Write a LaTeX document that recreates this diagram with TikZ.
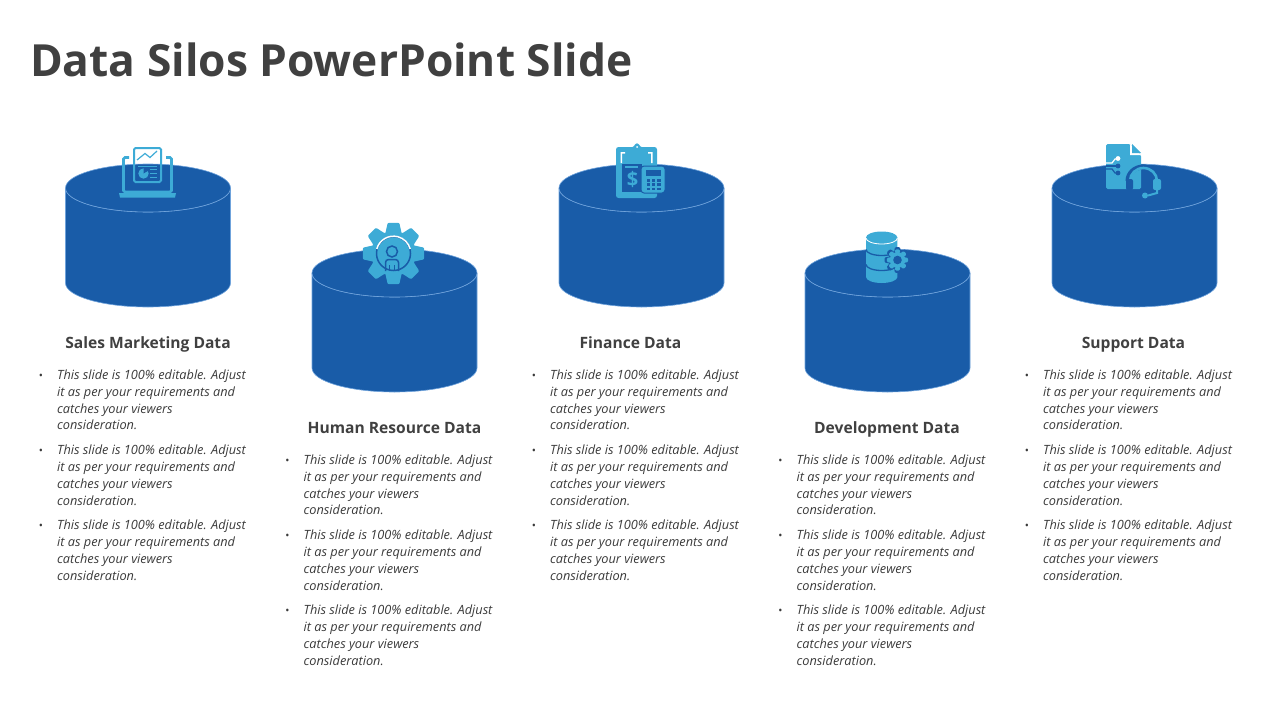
\documentclass[tikz,border=0pt]{standalone}
\usepackage{fontspec}
\setmainfont{Open Sans}
\definecolor{silofill}{HTML}{195CA8}
\definecolor{silorim}{HTML}{6FA3DC}
\definecolor{iconblue}{HTML}{3DABD6}
\definecolor{titlegray}{HTML}{404040}
\definecolor{textgray}{HTML}{3A3A3A}
\tikzset{
  titletext/.style={anchor=base west,inner sep=0pt,font=\fontsize{44.3}{50}\selectfont\bfseries,text=titlegray},
  headtext/.style={anchor=base,inner sep=0pt,font=\fontsize{15.6}{18}\selectfont\bfseries,text=titlegray},
  bodytext/.style={anchor=base west,inner sep=0pt,align=left,font=\fontsize{12.74}{16.9}\selectfont\itshape,text=textgray},
  bullettext/.style={anchor=base,inner sep=0pt,font=\fontsize{11}{14}\selectfont,text=textgray},
  iconline/.style={draw=iconblue,line width=2.8pt,rounded corners=1.5pt}
}
\newcommand{\silo}[2]{% centre x, y of the top ellipse
  \filldraw[fill=silofill,draw=silorim,line width=.6pt] (#1-82.5,#2) -- (#1-82.5,#2+95)
    arc[start angle=180,end angle=360,x radius=82.5,y radius=-24] -- (#1+82.5,#2)
    arc[start angle=0,end angle=180,x radius=82.5,y radius=24] -- cycle;
  \filldraw[fill=silofill,draw=silorim,line width=.6pt] (#1,#2) ellipse [x radius=82.5,y radius=24];
}
\newcommand{\silotext}[3]{% tag, x of the text, y of the first baseline
  \foreach \k/\dy in {a/0,b/75.3,c/150.6}{
    \node[bullettext] (bul#1\k) at (#2-16,#3+\dy) {•};
    \node[bodytext] (txt#1\k) at (#2,#3+\dy+50.9) {This slide is 100\% editable. Adjust\\it as per your requirements and\\catches your viewers\\consideration.};
  }
}
\newcommand{\gearshape}[4]{% x, y, body radius, colour
  \fill[#4] (#1,#2) circle (#3);
  \foreach \a in {0,45,...,315}{
    \fill[#4,rounded corners=1pt,rotate around={\a:(#1,#2)}] (#1-.36*#3,#2-.9*#3) -- (#1-.26*#3,#2-1.36*#3)
      -- (#1+.26*#3,#2-1.36*#3) -- (#1+.36*#3,#2-.9*#3) -- cycle;
  }
}
\begin{document}
\begin{tikzpicture}[x=1pt,y=-1pt]
\useasboundingbox (0,0) rectangle (1280,720);
\node[titletext] (title) at (30,76) {Data Silos PowerPoint Slide};

% silos
\silo{148}{188}
\silo{394.5}{273}
\silo{641.5}{188}
\silo{887.5}{273}
\silo{1134.5}{188}

% headings
\node[headtext] (headsales) at (148,348) {Sales Marketing Data};
\node[headtext] (headhr) at (394.5,433) {Human Resource Data};
\node[headtext] (headfin) at (630.5,348) {Finance Data};
\node[headtext] (headdev) at (887,433) {Development Data};
\node[headtext] (headsup) at (1133.5,348) {Support Data};

% bullet lists
\silotext{sales}{57}{379}
\silotext{hr}{303.5}{464}
\silotext{fin}{550}{379}
\silotext{dev}{796.5}{464}
\silotext{sup}{1043}{379}

% laptop icon
\draw[iconline] (129,157.5) -- (123.5,157.5) -- (123.5,192) -- (171.5,192) -- (171.5,157.5) -- (166,157.5);
\fill[iconblue] (119,193) -- (176,193) -- (175,197.5) -- (120,197.5) -- cycle;
\draw[iconblue,line width=2pt,rounded corners=1.5pt] (134,148) rectangle (161,182);
\draw[iconblue,line width=1.2pt] (137,160) -- (145,153.5) -- (150,157.5) -- (157,151);
\draw[iconblue,line width=.9pt] (138,166) -- (157,166);
\fill[iconblue] (143.5,173.5) circle (5.2);
\fill[silofill] (143.5,173.5) -- (143.5,167.5) -- (149.5,170) -- cycle;
\draw[iconblue,line width=1.1pt] (150,169.5) -- (157,169.5) (150,173.5) -- (157,173.5) (150,177.5) -- (157,177.5);

% gear icon
\gearshape{393.5}{253.5}{22.5}{iconblue}
\draw[silofill,line width=1.5pt] (393.5,253.5) circle (17);
\draw[white,line width=1.5pt] (376.8,249) arc[start angle=195,end angle=345,x radius=17.3,y radius=17.3];
\draw[silofill,line width=1.5pt] (392,251.5) circle (5.5);
\draw[silofill,line width=1.5pt,rounded corners=3pt] (385.5,271) -- (385.5,259.5) -- (398.5,259.5) -- (398.5,271);
\draw[silofill,line width=1pt] (389.5,265) -- (389.5,271) (394.5,265) -- (394.5,271);

% clipboard icon
\fill[iconblue,rounded corners=2.5pt] (616,147) rectangle (657,198);
\fill[white] (620.5,152) -- (620.5,163) -- (622,163) -- (622,153.5) -- (625,153.5) -- (625,152) -- cycle;
\fill[white] (652.5,152) -- (652.5,163) -- (651,163) -- (651,153.5) -- (648,153.5) -- (648,152) -- cycle;
\fill[silofill] (622,164) rectangle (642,192);
\fill[iconblue] (625,166) rectangle (638,168);
\fill[iconblue,rounded corners=2pt] (627,155) -- (627,149) -- (632,148) -- (637,142.5) -- (642,148) -- (647,149) -- (647,155) -- cycle;
\fill[white] (637,147) circle (1);
\node[inner sep=0pt,text=iconblue,font=\fontsize{20}{20}\selectfont\bfseries] (dollar) at (632.5,179) {\$};
\filldraw[fill=iconblue,draw=silofill,line width=1pt,rounded corners=3pt] (641,166) rectangle (665,193);
\fill[silofill] (646,170) rectangle (661,176);
\foreach \i in {0,1,2}{
  \foreach \j in {0,1,2}{
    \fill[silofill] (647+5.2*\i,179+4.4*\j) rectangle ++(3.2,2.6);
  }
}

% database icon
\fill[iconblue] (866,237.5) -- (866,277) arc[start angle=180,end angle=360,x radius=15.7,y radius=-6] -- (897.4,237.5) -- cycle;
\fill[iconblue] (881.7,237.5) ellipse [x radius=15.7,y radius=6];
\draw[white,line width=.8pt] (866,238) arc[start angle=180,end angle=360,x radius=15.7,y radius=-6];
\draw[silofill,line width=1.3pt] (866,249.5) arc[start angle=180,end angle=360,x radius=15.7,y radius=-6];
\draw[silofill,line width=1.3pt] (866,264.5) arc[start angle=180,end angle=360,x radius=15.7,y radius=-6];
\gearshape{897.5}{260}{9.5}{silofill}
\gearshape{897.5}{260}{7.8}{iconblue}
\fill[silofill] (897.5,260) circle (4.3);

% document and headset icon
\fill[iconblue,rounded corners=1.5pt] (1106,144) -- (1130,144) -- (1141,155) -- (1141,189) -- (1106,189) -- cycle;
\fill[white] (1130,144) -- (1141,155) -- (1130,155) -- cycle;
\fill[iconblue] (1132,144) -- (1141,153) -- (1132,153) -- cycle;
\draw[white,line width=1.2pt] (1106,163) -- (1112,163) -- (1115,159) -- (1118,159);
\fill[white] (1118,158.5) circle (2.4);
\draw[silofill,line width=1.2pt] (1106,166) -- (1118,166);
\fill[silofill] (1118,166) circle (2.4);
\draw[silofill,line width=1.2pt] (1106,169) -- (1112,169) -- (1115,173) -- (1118,173);
\fill[silofill] (1118,173) circle (2.4);
\draw[silofill,line width=5pt] (1128,181) arc[start angle=180,end angle=360,x radius=15,y radius=14];
\draw[iconblue,line width=2.6pt] (1130,181) arc[start angle=180,end angle=360,x radius=13.5,y radius=13];
\fill[silofill,rounded corners=2pt] (1126,179) rectangle (1133,190);
\fill[iconblue,rounded corners=2pt] (1153,179) rectangle (1161,190);
\draw[iconblue,line width=2pt] (1157,189) -- (1157,193) -- (1148,195.5);
\fill[iconblue] (1145,195.5) circle (3);
\end{tikzpicture}
\end{document}
